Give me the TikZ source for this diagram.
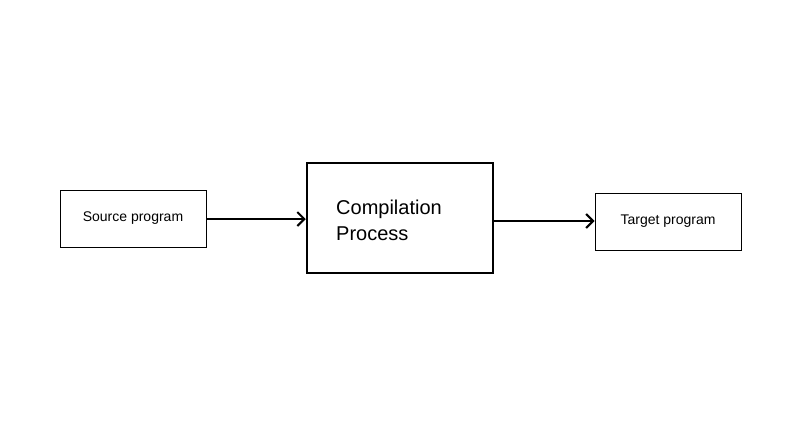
\documentclass[tikz,border=0pt]{standalone}
\usepackage{fontspec}
\setmainfont{Liberation Sans}
\usetikzlibrary{arrows.meta}
\begin{document}
\begin{tikzpicture}[x=1pt,y=-1pt,
  box/.style={draw,line width=1pt,inner sep=0pt,font=\fontsize{14}{16}\selectfont},
  arr/.style={line width=2.5pt,-{Straight Barb[length=7pt,width=14pt,line width=2pt]}}]
\useasboundingbox (0,0) rectangle (800,437);
\node[box,minimum width=146pt,minimum height=57pt] (src) at (133,218.5) {Source program};
\node[box,line width=2.5pt,minimum width=186pt,minimum height=110pt] (cp) at (400,218) {};
\node[anchor=west,align=left,font=\fontsize{20}{26}\selectfont,inner sep=0pt] (cpt) at (336,220) {Compilation\\Process};
\node[box,minimum width=146pt,minimum height=57pt] (tgt) at (668,221.5) {Target program};
\draw[arr] (src.east|-0,219) -- (cp.west|-0,219);
\draw[arr] (cp.east|-0,221) -- (tgt.west|-0,221);
\end{tikzpicture}
\end{document}
